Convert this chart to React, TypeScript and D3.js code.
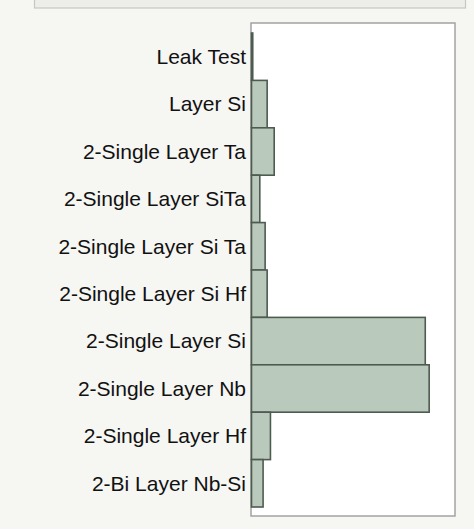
import React from "react";
import * as d3 from "d3";

const categories = [
  "Leak Test",
  "Layer Si",
  "2-Single Layer Ta",
  "2-Single Layer SiTa",
  "2-Single Layer Si Ta",
  "2-Single Layer Si Hf",
  "2-Single Layer Si",
  "2-Single Layer Nb",
  "2-Single Layer Hf",
  "2-Bi Layer Nb-Si",
];
const counts = [0.8, 10, 14.5, 5.3, 8.7, 10, 111, 113.5, 12.1, 7.4];
const xDomainMax = 130;

const width = 474;
const height = 529;
const frame = { left: 251, top: 23, right: 455, bottom: 516 };

export default function App() {
  const x = d3.scaleLinear().domain([0, xDomainMax]).range([frame.left + 0.5, frame.right]);
  const y = d3.scaleBand<string>().domain(categories).range([33, 507]).padding(0);

  return (
    <svg
      width={width}
      height={height}
      style={{ position: "absolute", left: 0, top: 0, background: "#f6f6f3" }}
      fontFamily="'Liberation Sans', Arial, Helvetica, sans-serif"
    >
      {/* header box clipped at top */}
      <rect x={34.5} y={-10} width={431} height={18} fill="#ededea" stroke="#c6c6c2" strokeWidth={1.2} />

      {/* plot frame */}
      <rect
        x={frame.left}
        y={frame.top}
        width={frame.right - frame.left}
        height={frame.bottom - frame.top}
        fill="#ffffff"
        stroke="#a3a3a0"
        strokeWidth={1.5}
      />

      {categories.map((c, i) => (
        <g key={c}>
          <rect
            x={x(0)}
            y={y(c)!}
            width={x(counts[i]) - x(0)}
            height={y.bandwidth()}
            fill="#b9cabc"
            stroke="#4e5b51"
            strokeWidth={1.6}
          />
          <text
            x={frame.left - 5}
            y={y(c)! + y.bandwidth() / 2}
            dy="0.35em"
            textAnchor="end"
            fontSize={21}
            fill="#111"
          >
            {c}
          </text>
        </g>
      ))}
    </svg>
  );
}
